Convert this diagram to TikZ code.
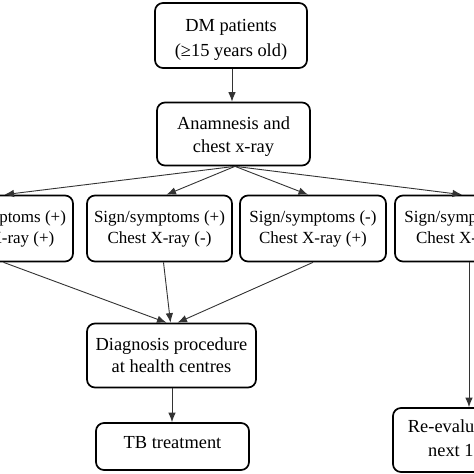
\documentclass[tikz,border=0pt]{standalone}
\usepackage{fontspec}
\setmainfont{Liberation Serif}
\usetikzlibrary{arrows.meta}
\begin{document}
\begin{tikzpicture}[x=1pt,y=-1pt,
  box/.style={draw=black,line width=1.7pt,rounded corners=8pt,align=center,inner sep=0pt,
    font=\fontsize{18.4}{23}\selectfont},
  rowbox/.style={box,minimum width=145pt,minimum height=66pt,font=\fontsize{17}{21}\selectfont},
  conn/.style={draw=black!80,line width=0.9pt,-{Latex[length=9.5pt,width=7.5pt]}}]
\useasboundingbox (0,0) rectangle (474,474);
\clip (0,0) rectangle (474,474);
\fill[white] (0,0) rectangle (474,474);
\node[box,minimum width=152pt,minimum height=65pt,font=\fontsize{18.4}{25}\selectfont] (dm) at (231,35.5) {\rule{0pt}{21pt}DM patients\\(≥15 years old)};
\node[box,minimum width=153pt,minimum height=63pt] (ana) at (233.5,134) {\rule{0pt}{18.5pt}Anamnesis and\\chest x-ray};
\node[rowbox] (b1) at (0.5,228.5) {Sign/symptoms (+)\\Chest X-ray (+)};
\node[rowbox] (b2) at (159.5,228.5) {Sign/symptoms (+)\\Chest X-ray (-)};
\node[rowbox,minimum width=146pt] (b3) at (313,228.5) {Sign/symptoms (-)\\Chest X-ray (+)};
\node[rowbox,minimum width=146pt] (b4) at (468,228.5) {Sign/symptoms (-)\\Chest X-ray (-)};
\node[box,minimum width=169pt,minimum height=64pt,font=\fontsize{18.4}{22}\selectfont] (diag) at (171.5,355.5) {Diagnosis procedure\\at health centres};
\node[box,minimum width=153pt,minimum height=47pt] (tb) at (172.5,446.5) {TB treatment\rule[-8pt]{0pt}{8pt}};
\node[box,minimum width=152pt,minimum height=64pt,font=\fontsize{18.4}{23.7}\selectfont] (re) at (469,440) {Re-evaluation in\\next 1 year};
\draw[conn] ([xshift=1pt]dm.south) -- ([xshift=-1.5pt]ana.north);
\draw[conn] ([xshift=1.5pt]ana.south) -- ([xshift=4pt]b1.north);
\draw[conn] ([xshift=1.5pt]ana.south) -- ([xshift=7pt]b2.north);
\draw[conn] ([xshift=1.5pt]ana.south) -- ([xshift=-5pt]b3.north);
\draw[conn] ([xshift=1.5pt]ana.south) -- ([xshift=-6pt]b4.north);
\draw[conn] ([xshift=3pt]b1.south) -- ([xshift=-5pt]diag.north);
\draw[conn] ([xshift=4pt]b2.south) -- ([xshift=-1pt]diag.north);
\draw[conn] ([xshift=0pt]b3.south) -- ([xshift=6pt]diag.north);
\draw[conn] ([xshift=0.5pt]diag.south) -- ([xshift=-0.5pt]tb.north);
\draw[conn] ([xshift=1pt]b4.south) -- ([xshift=0pt]re.north);
\end{tikzpicture}
\end{document}
